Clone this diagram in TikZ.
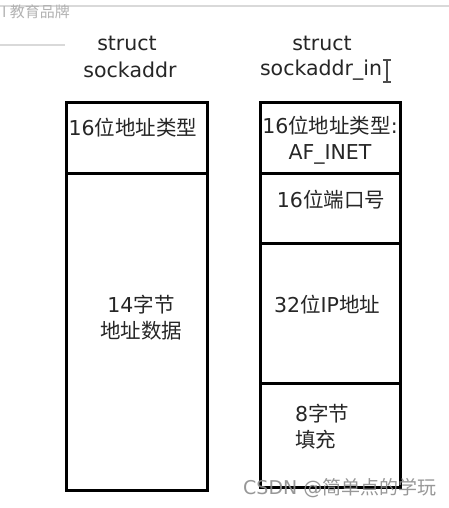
\documentclass[tikz,border=0pt]{standalone}
\usepackage{fontspec}
\setmainfont{DejaVu Sans}
\newfontfamily\cjk{Noto Sans CJK SC}
\begin{document}
\begin{tikzpicture}[x=1pt,y=-1pt,
  cell/.style={draw=black,line width=3pt},
  lbl/.style={font=\fontsize{20.5}{26}\selectfont,inner sep=0pt,align=center,text=black!85},
  faint/.style={draw=black!15,line width=1.2pt},
  wm/.style={font=\fontsize{19}{22}\selectfont,inner sep=0pt,text=black!45,opacity=0.9}]
\useasboundingbox (0,0) rectangle (449,508);
\fill[white] (0,0) rectangle (449,508);
% screenshot remnants
\draw[faint] (0,6) -- (449,6);
\draw[faint] (0,45) -- (65,45);
\node[font=\fontsize{15}{17}\selectfont\cjk,text=black!30,anchor=west,inner sep=0pt] (brand) at (2,12) {I 教育品牌};
% headers
\node[lbl] (h1a) at (127,43) {struct};
\node[lbl] (h1b) at (130,70) {sockaddr};
\node[lbl] (h2a) at (322,43) {struct};
\node[lbl] (h2b) at (321,70) {sockaddr\_in};
% cursor
\draw[line width=1.2pt,black!70] (387,60) -- (387,82) (383,60) -- (391,60) (383,82) -- (391,82);
% left box
\draw[cell] (66,103) rectangle (207,173);
\draw[cell] (66,173) rectangle (207,490);
% right box
\draw[cell] (260,103) rectangle (400,173);
\draw[cell] (260,173) rectangle (400,243);
\draw[cell] (260,243) rectangle (400,383);
\draw[cell] (260,383) rectangle (400,487);
% labels
\node[lbl] (l1) at (133,128) {16{\cjk 位地址类型}};
\node[lbl] (l2) at (141,318) {14{\cjk 字节}\\{\cjk 地址数据}};
\node[lbl] (r1) at (330,140) {16{\cjk 位地址类型}:\\AF\_INET};
\node[lbl] (r2) at (331,200) {16{\cjk 位端口号}};
\node[lbl] (r3) at (327,305) {32{\cjk 位}IP{\cjk 地址}};
\node[lbl,align=left,anchor=west] (r4) at (295,427) {8{\cjk 字节}\\{\cjk 填充}};
% watermark
\node[wm,anchor=west] (wmk) at (243,488) {CSDN @{\cjk 简单点的学玩}};
\end{tikzpicture}
\end{document}
